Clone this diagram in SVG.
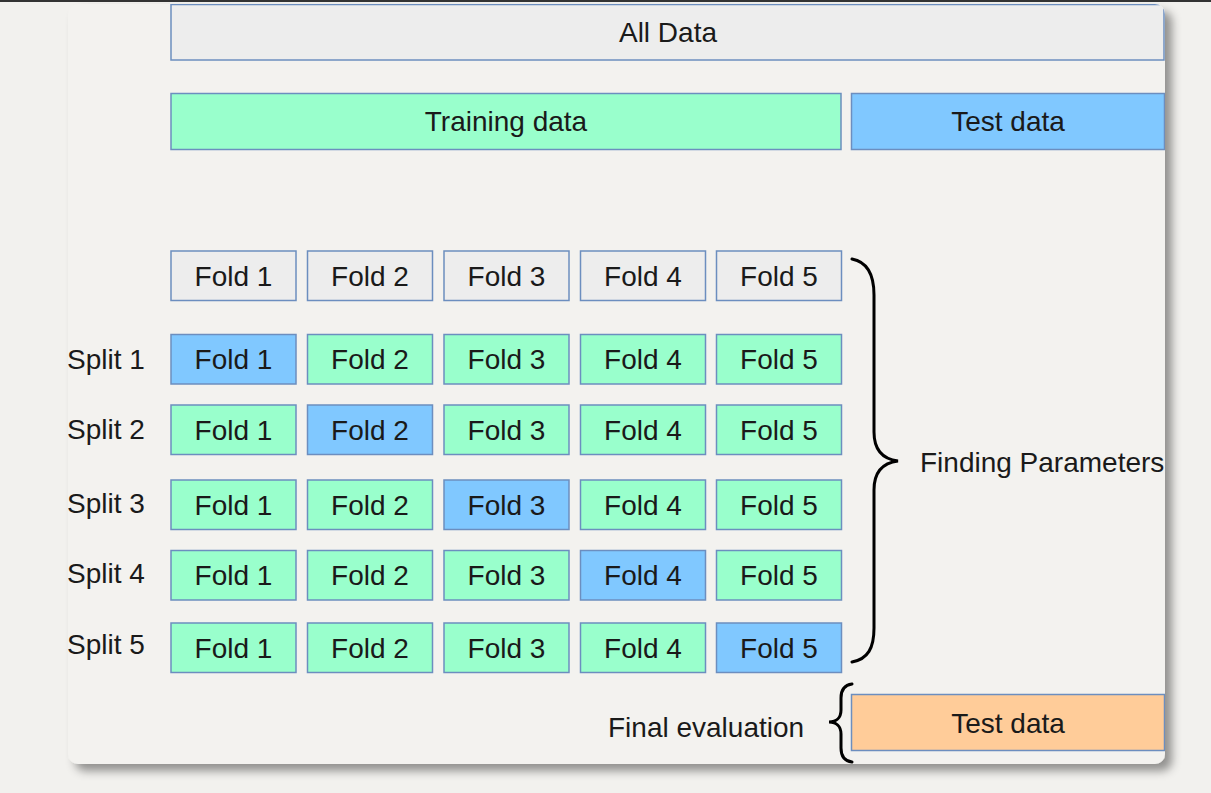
<svg xmlns="http://www.w3.org/2000/svg" width="1211" height="793" viewBox="0 0 1211 793">
<defs>
<style>
.t{font-family:"Liberation Sans",Arial,sans-serif;font-size:28px;fill:#1a1a1a}
.m{text-anchor:middle}
.b{stroke:#6c8ebf;stroke-width:1.5}
.g{fill:#99ffcc}
.u{fill:#80c8ff}
.n{fill:#ededed}
.o{fill:#ffcc99}
.br{fill:none;stroke:#000;stroke-width:3;stroke-linecap:round}
</style>
<filter id="sh" x="-5%" y="-5%" width="115%" height="115%">
<feDropShadow dx="7" dy="7" stdDeviation="5" flood-color="#000" flood-opacity="0.4"/>
</filter>
<clipPath id="cp"><rect x="68" y="4" width="1097" height="760" rx="10"/></clipPath>
</defs>
<rect width="1211" height="793" fill="#f2f1ee"/>
<rect x="0" y="0" width="1211" height="2" fill="#333"/>
<rect x="68" y="4" width="1097" height="760" rx="10" fill="#f3f2ef" filter="url(#sh)"/>
<g clip-path="url(#cp)">
<g id="all-data"><rect class="b n" x="171" y="4.5" width="993" height="55.5"/><text class="t m" x="668" y="42">All Data</text></g>
<g id="training-data"><rect class="b g" x="171" y="93.5" width="670" height="56"/><text class="t m" x="506" y="131">Training data</text></g>
<g id="test-data"><rect class="b u" x="851.5" y="93.5" width="313" height="56"/><text class="t m" x="1008" y="131">Test data</text></g>

<g id="header-folds">
<g id="h1"><rect class="b n" x="171" y="251" width="125" height="49.5"/><text class="t m" x="233.5" y="285.5">Fold 1</text></g>
<g id="h2"><rect class="b n" x="307.5" y="251" width="125" height="49.5"/><text class="t m" x="370" y="285.5">Fold 2</text></g>
<g id="h3"><rect class="b n" x="444" y="251" width="125" height="49.5"/><text class="t m" x="506.5" y="285.5">Fold 3</text></g>
<g id="h4"><rect class="b n" x="580.5" y="251" width="125" height="49.5"/><text class="t m" x="643" y="285.5">Fold 4</text></g>
<g id="h5"><rect class="b n" x="716.5" y="251" width="125" height="49.5"/><text class="t m" x="779" y="285.5">Fold 5</text></g>
</g>

<g id="split1">
<text class="t" x="67" y="368.5">Split 1</text>
<g id="s1f1"><rect class="b u" x="171" y="334.5" width="125" height="49.5"/><text class="t m" x="233.5" y="368.5">Fold 1</text></g>
<g id="s1f2"><rect class="b g" x="307.5" y="334.5" width="125" height="49.5"/><text class="t m" x="370" y="368.5">Fold 2</text></g>
<g id="s1f3"><rect class="b g" x="444" y="334.5" width="125" height="49.5"/><text class="t m" x="506.5" y="368.5">Fold 3</text></g>
<g id="s1f4"><rect class="b g" x="580.5" y="334.5" width="125" height="49.5"/><text class="t m" x="643" y="368.5">Fold 4</text></g>
<g id="s1f5"><rect class="b g" x="716.5" y="334.5" width="125" height="49.5"/><text class="t m" x="779" y="368.5">Fold 5</text></g>
</g>
<g id="split2">
<text class="t" x="67" y="438.5">Split 2</text>
<g id="s2f1"><rect class="b g" x="171" y="405" width="125" height="49.5"/><text class="t m" x="233.5" y="439.5">Fold 1</text></g>
<g id="s2f2"><rect class="b u" x="307.5" y="405" width="125" height="49.5"/><text class="t m" x="370" y="439.5">Fold 2</text></g>
<g id="s2f3"><rect class="b g" x="444" y="405" width="125" height="49.5"/><text class="t m" x="506.5" y="439.5">Fold 3</text></g>
<g id="s2f4"><rect class="b g" x="580.5" y="405" width="125" height="49.5"/><text class="t m" x="643" y="439.5">Fold 4</text></g>
<g id="s2f5"><rect class="b g" x="716.5" y="405" width="125" height="49.5"/><text class="t m" x="779" y="439.5">Fold 5</text></g>
</g>
<g id="split3">
<text class="t" x="67" y="512.5">Split 3</text>
<g id="s3f1"><rect class="b g" x="171" y="480" width="125" height="49.5"/><text class="t m" x="233.5" y="514.5">Fold 1</text></g>
<g id="s3f2"><rect class="b g" x="307.5" y="480" width="125" height="49.5"/><text class="t m" x="370" y="514.5">Fold 2</text></g>
<g id="s3f3"><rect class="b u" x="444" y="480" width="125" height="49.5"/><text class="t m" x="506.5" y="514.5">Fold 3</text></g>
<g id="s3f4"><rect class="b g" x="580.5" y="480" width="125" height="49.5"/><text class="t m" x="643" y="514.5">Fold 4</text></g>
<g id="s3f5"><rect class="b g" x="716.5" y="480" width="125" height="49.5"/><text class="t m" x="779" y="514.5">Fold 5</text></g>
</g>
<g id="split4">
<text class="t" x="67" y="582.5">Split 4</text>
<g id="s4f1"><rect class="b g" x="171" y="550.5" width="125" height="49.5"/><text class="t m" x="233.5" y="585">Fold 1</text></g>
<g id="s4f2"><rect class="b g" x="307.5" y="550.5" width="125" height="49.5"/><text class="t m" x="370" y="585">Fold 2</text></g>
<g id="s4f3"><rect class="b g" x="444" y="550.5" width="125" height="49.5"/><text class="t m" x="506.5" y="585">Fold 3</text></g>
<g id="s4f4"><rect class="b u" x="580.5" y="550.5" width="125" height="49.5"/><text class="t m" x="643" y="585">Fold 4</text></g>
<g id="s4f5"><rect class="b g" x="716.5" y="550.5" width="125" height="49.5"/><text class="t m" x="779" y="585">Fold 5</text></g>
</g>
<g id="split5">
<text class="t" x="67" y="653.5">Split 5</text>
<g id="s5f1"><rect class="b g" x="171" y="623" width="125" height="49.5"/><text class="t m" x="233.5" y="657.5">Fold 1</text></g>
<g id="s5f2"><rect class="b g" x="307.5" y="623" width="125" height="49.5"/><text class="t m" x="370" y="657.5">Fold 2</text></g>
<g id="s5f3"><rect class="b g" x="444" y="623" width="125" height="49.5"/><text class="t m" x="506.5" y="657.5">Fold 3</text></g>
<g id="s5f4"><rect class="b g" x="580.5" y="623" width="125" height="49.5"/><text class="t m" x="643" y="657.5">Fold 4</text></g>
<g id="s5f5"><rect class="b u" x="716.5" y="623" width="125" height="49.5"/><text class="t m" x="779" y="657.5">Fold 5</text></g>
</g>

<g id="final-test"><rect class="b o" x="851.5" y="694.5" width="313" height="56"/><text class="t m" x="1008" y="732.5">Test data</text></g>

<g id="connectors">
<path class="br" d="M852,259 C868,262 874,275 874,295 L874,432 C874,450 882,459 898,461 C882,463 874,472 874,490 L874,628 C874,648 868,659 852,662"/>
<path class="br" d="M852,684 C844,685 841,690 841,698 L841,710 C841,718 836,722 829,722 C836,722 841,726 841,734 L841,748 C841,756 844,761 852,762"/>
</g>
<text class="t" x="920" y="471.5">Finding Parameters</text>
<text class="t" x="608" y="736.5">Final evaluation</text>
</g>
</svg>
